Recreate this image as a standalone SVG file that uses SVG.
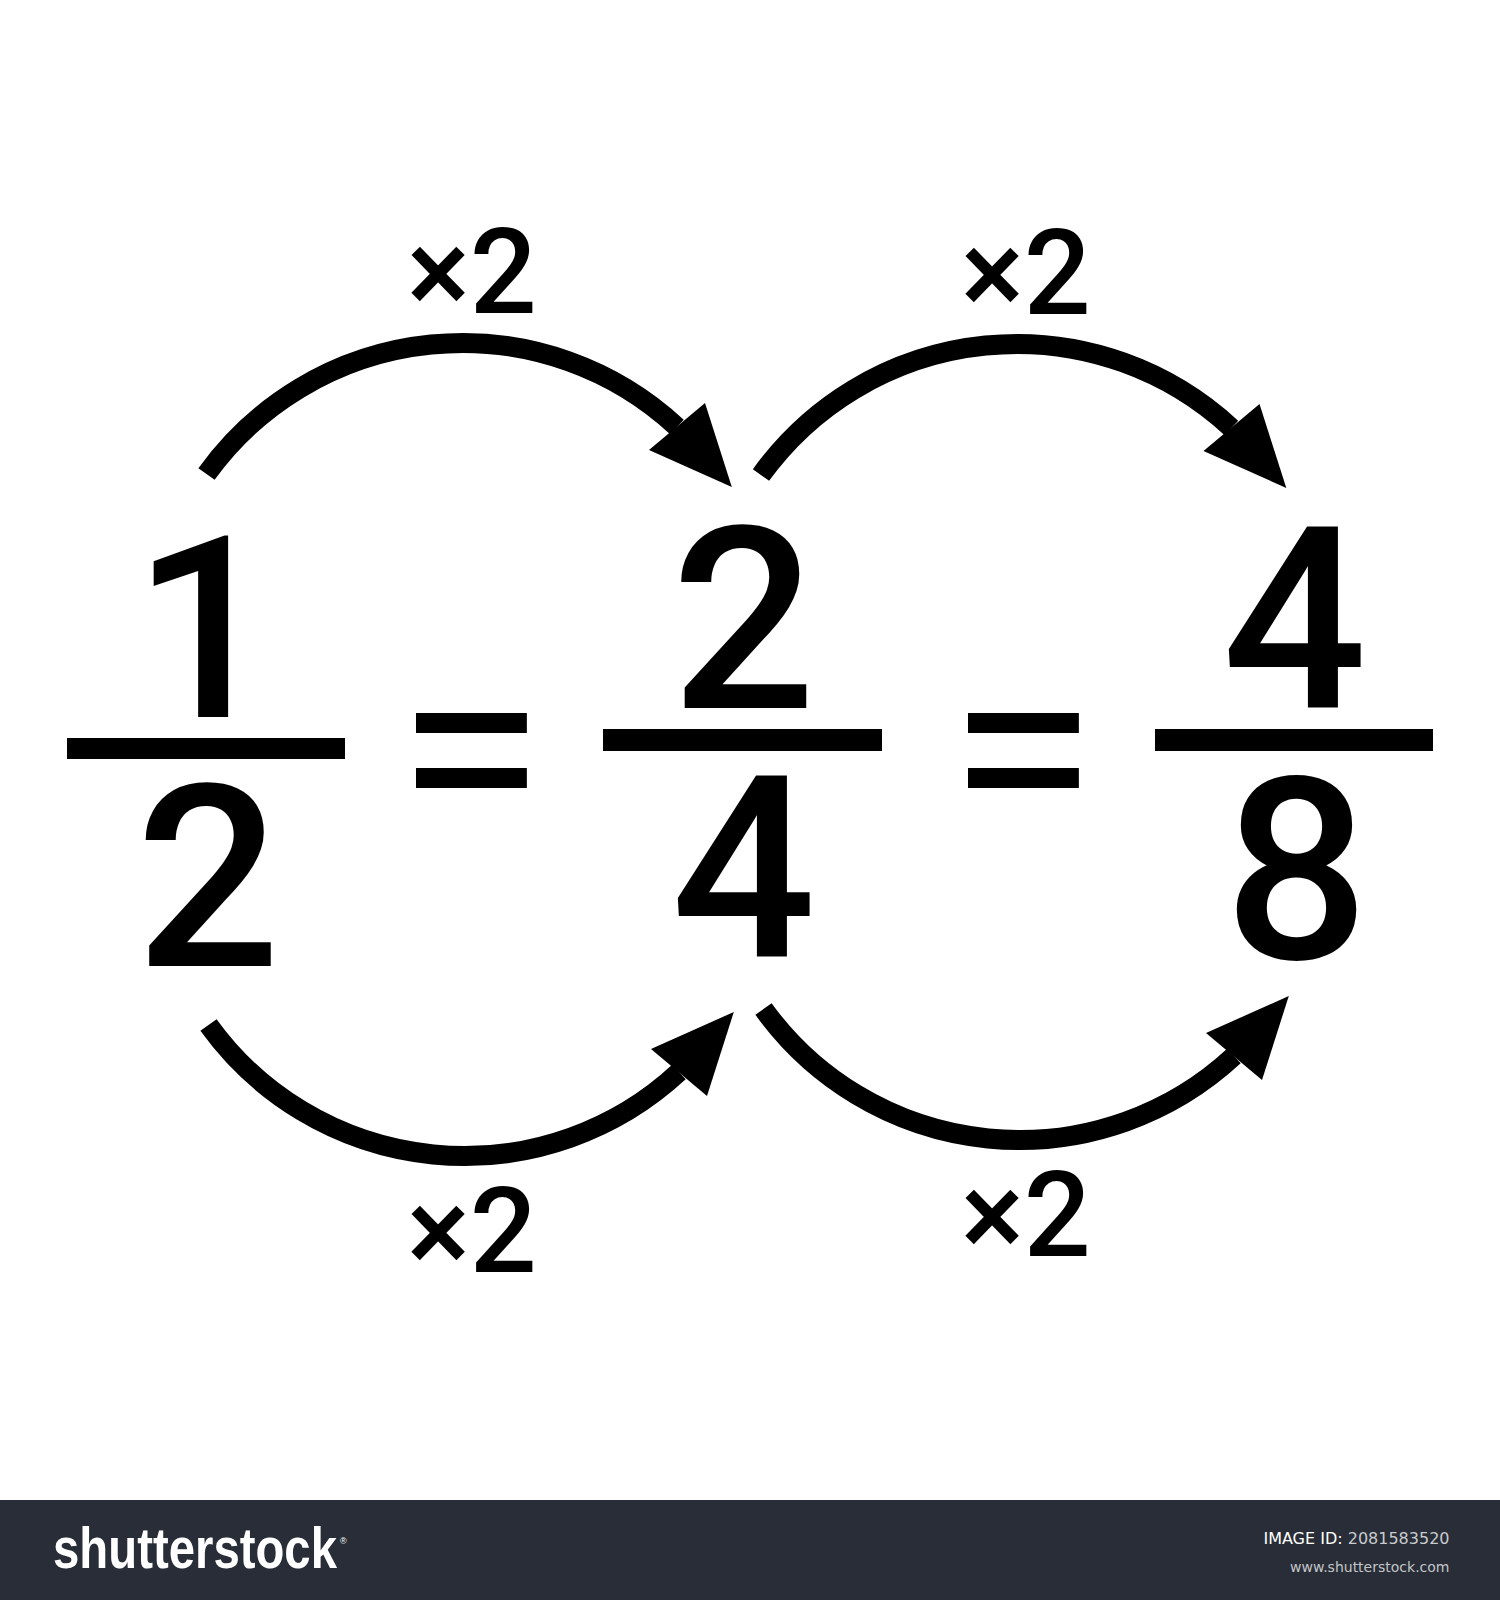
<svg xmlns="http://www.w3.org/2000/svg" width="1500" height="1600" viewBox="0 0 1500 1600">
<style>
.num { font-family: Roboto, "Liberation Sans", sans-serif; font-size: 255px; font-weight: 500; fill: #000; text-anchor: middle; }
.lbl { font-family: Roboto, "Liberation Sans", sans-serif; font-size: 118px; font-weight: 500; fill: #000; text-anchor: middle; }
.bar { fill: #000; }
.eq { font-family: "Liberation Sans", sans-serif; font-size: 220px; fill: #000; stroke: #000; stroke-width: 4; text-anchor: middle; }
.arc { fill: none; stroke: #000; stroke-width: 20; stroke-linecap: butt; }
.head { fill: #000; }
.foot { fill: #282d37; }
.logo { font-family: "Liberation Sans", Arial, sans-serif; font-weight: bold; font-size: 58px; fill: #fff; }
.meta { font-family: "DejaVu Sans", sans-serif; text-anchor: end; }
</style>
<rect width="1500" height="1600" fill="#ffffff"/>

<g id="fraction-1-2">
  <rect class="bar" x="67" y="738" width="278" height="21"/>
  <text class="num"><tspan x="205" y="717">1</tspan><tspan x="208" y="966">2</tspan></text>
</g>

<g id="equals-1">
  <text class="eq" x="471.5" y="823">=</text>
</g>

<g id="fraction-2-4">
  <rect class="bar" x="603" y="729" width="279" height="22"/>
  <text class="num"><tspan x="743.5" y="708">2</tspan><tspan x="743.5" y="957">4</tspan></text>
</g>

<g id="equals-2">
  <text class="eq" x="1023.5" y="823">=</text>
</g>

<g id="fraction-4-8">
  <rect class="bar" x="1155" y="729" width="278" height="22"/>
  <text class="num"><tspan x="1294.5" y="708">4</tspan><tspan x="1296.5" y="959">8</tspan></text>
</g>

<g id="connectors">
  <g id="arrow-top-1">
    <path class="arc" d="M206.5,474 A315.6,315.6 0 0 1 676.9,427"/>
    <polygon class="head" points="731.8,487 705,403 649,450"/>
  </g>
  <g id="arrow-top-2">
    <path class="arc" d="M761,475 A315.6,315.6 0 0 1 1231.4,428"/>
    <polygon class="head" points="1286.3,488 1259.5,404 1203.5,451"/>
  </g>
  <g id="arrow-bottom-1">
    <path class="arc" d="M208.5,1025 A315.6,315.6 0 0 0 678.9,1072"/>
    <polygon class="head" points="733.8,1012 707,1096 651,1049"/>
  </g>
  <g id="arrow-bottom-2">
    <path class="arc" d="M763.5,1009 A315.6,315.6 0 0 0 1233.9,1056"/>
    <polygon class="head" points="1288.8,996 1262,1080 1206,1033"/>
  </g>
</g>

<g id="labels">
  <text class="lbl" x="472" y="313">×2</text>
  <text class="lbl" x="1026" y="314">×2</text>
  <text class="lbl" x="472" y="1272">×2</text>
  <text class="lbl" x="1026" y="1256">×2</text>
</g>

<g id="footer">
  <rect class="foot" x="0" y="1500" width="1500" height="100"/>
  <text class="logo" x="53" y="1568"><tspan textLength="284" lengthAdjust="spacingAndGlyphs">shutterstock</tspan><tspan font-weight="normal" font-size="9" dx="3" dy="-24">®</tspan></text>
  <text class="meta" x="1449.5" y="1544.3" font-size="16"><tspan fill="#ffffff">IMAGE ID: </tspan><tspan fill="#c9cbce">2081583520</tspan></text>
  <text class="meta" x="1449.5" y="1571.7" font-size="14" fill="#c3c5c9">www.shutterstock.com</text>
</g>
</svg>
